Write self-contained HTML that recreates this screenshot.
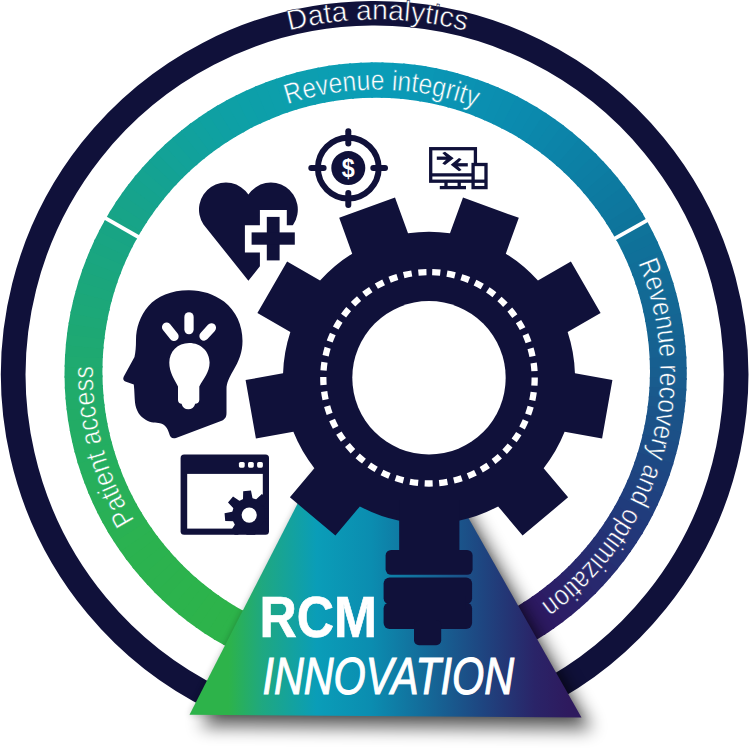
<!DOCTYPE html>
<html lang="en"><head><meta charset="utf-8"><title>RCM Innovation</title>
<style>
html,body{margin:0;padding:0;background:#fff;}
body{width:750px;height:751px;overflow:hidden;}
svg{display:block;}
text{font-family:"Liberation Sans",Arial,sans-serif;}
</style></head><body>
<svg width="750" height="751" viewBox="0 0 750 751">
<defs>
<linearGradient id="tri" gradientUnits="userSpaceOnUse" x1="189.5" y1="0" x2="581.5" y2="0">
<stop offset="0" stop-color="#2db34a"/>
<stop offset="0.10" stop-color="#2db34a"/>
<stop offset="0.185" stop-color="#1fa880"/>
<stop offset="0.325" stop-color="#0a9db8"/>
<stop offset="0.463" stop-color="#0b8db0"/>
<stop offset="0.603" stop-color="#146a99"/>
<stop offset="0.744" stop-color="#1e4681"/>
<stop offset="0.881" stop-color="#2a2468"/>
<stop offset="0.966" stop-color="#2e1a5e"/>
<stop offset="1" stop-color="#2e1a5e"/>
</linearGradient>
<filter id="sh" x="-20%" y="-20%" width="140%" height="140%"><feGaussianBlur stdDeviation="8.5"/></filter>
<filter id="sh2" x="-20%" y="-20%" width="140%" height="140%"><feGaussianBlur stdDeviation="3.5"/></filter>

<path id="p1" d="M289.19,30.56A354.5,354.5 0 1 1 460.11,718.64A354.5,354.5 0 1 1 289.19,30.56"/>
<path id="p2" d="M287.36,104.48A282.3,282.3 0 1 1 464.64,640.52A282.3,282.3 0 1 1 287.36,104.48"/>
<path id="p3" d="M134.70,520.37A283.0,283.0 0 1 1 617.30,224.63A283.0,283.0 0 1 1 134.70,520.37"/>
<path id="p4" d="M638.00,262.90A284.0,284.0 0 1 1 114.00,482.10A284.0,284.0 0 1 1 638.00,262.90"/>
<clipPath id="ringclip"><path clip-rule="evenodd" d="M64.5,373.45 a311.15,311.15 0 1 0 622.3,0 a311.15,311.15 0 1 0 -622.3,0 Z M102.4,371.6 a273.8,273.8 0 1 0 547.6,0 a273.8,273.8 0 1 0 -547.6,0 Z"/></clipPath>
</defs>
<rect width="750" height="751" fill="#fff"/>
<path d="M216.24,699.38A361.35,361.35 0 1 1 538.70,696.57" fill="none" stroke="#10113a" stroke-width="24.7"/>
<text font-size="28.5" fill="#fff" stroke="#10113a" stroke-width="0.55"><textPath href="#p1" textLength="178.5" lengthAdjust="spacingAndGlyphs">Data analytics</textPath></text>
<g clip-path="url(#ringclip)">
<path d="M252.38,637.60A292.50,292.50 0 0 1 241.39,632.19" fill="none" stroke="rgb(45, 179, 74)" stroke-width="44"/>
<path d="M243.21,633.12A292.50,292.50 0 0 1 232.41,627.33" fill="none" stroke="rgb(45, 179, 74)" stroke-width="44"/>
<path d="M234.19,628.33A292.50,292.50 0 0 1 223.60,622.16" fill="none" stroke="rgb(45, 179, 74)" stroke-width="44"/>
<path d="M225.35,623.22A292.50,292.50 0 0 1 214.98,616.69" fill="none" stroke="rgb(45, 179, 74)" stroke-width="44"/>
<path d="M216.69,617.81A292.50,292.50 0 0 1 206.56,610.92" fill="none" stroke="rgb(45, 179, 75)" stroke-width="44"/>
<path d="M208.23,612.10A292.50,292.50 0 0 1 198.34,604.87" fill="none" stroke="rgb(45, 179, 75)" stroke-width="44"/>
<path d="M199.97,606.10A292.50,292.50 0 0 1 190.34,598.52" fill="none" stroke="rgb(44, 179, 76)" stroke-width="44"/>
<path d="M191.92,599.82A292.50,292.50 0 0 1 182.57,591.91" fill="none" stroke="rgb(44, 179, 76)" stroke-width="44"/>
<path d="M184.10,593.25A292.50,292.50 0 0 1 175.03,585.02" fill="none" stroke="rgb(44, 179, 77)" stroke-width="44"/>
<path d="M176.52,586.42A292.50,292.50 0 0 1 167.73,577.88" fill="none" stroke="rgb(44, 178, 77)" stroke-width="44"/>
<path d="M169.17,579.33A292.50,292.50 0 0 1 160.69,570.49" fill="none" stroke="rgb(44, 178, 78)" stroke-width="44"/>
<path d="M162.08,571.98A292.50,292.50 0 0 1 153.91,562.85" fill="none" stroke="rgb(44, 178, 78)" stroke-width="44"/>
<path d="M155.25,564.40A292.50,292.50 0 0 1 147.41,554.98" fill="none" stroke="rgb(43, 178, 79)" stroke-width="44"/>
<path d="M148.68,556.58A292.50,292.50 0 0 1 141.18,546.90" fill="none" stroke="rgb(43, 178, 79)" stroke-width="44"/>
<path d="M142.40,548.53A292.50,292.50 0 0 1 135.23,538.59" fill="none" stroke="rgb(43, 178, 80)" stroke-width="44"/>
<path d="M136.40,540.27A292.50,292.50 0 0 1 129.58,530.09" fill="none" stroke="rgb(43, 178, 81)" stroke-width="44"/>
<path d="M130.69,531.81A292.50,292.50 0 0 1 124.23,521.39" fill="none" stroke="rgb(42, 177, 83)" stroke-width="44"/>
<path d="M125.28,523.15A292.50,292.50 0 0 1 119.19,512.52" fill="none" stroke="rgb(41, 177, 84)" stroke-width="44"/>
<path d="M120.17,514.31A292.50,292.50 0 0 1 114.46,503.47" fill="none" stroke="rgb(41, 176, 86)" stroke-width="44"/>
<path d="M115.38,505.29A292.50,292.50 0 0 1 110.05,494.26" fill="none" stroke="rgb(40, 176, 88)" stroke-width="44"/>
<path d="M110.90,496.12A292.50,292.50 0 0 1 105.96,484.91" fill="none" stroke="rgb(39, 175, 89)" stroke-width="44"/>
<path d="M106.75,486.79A292.50,292.50 0 0 1 102.20,475.41" fill="none" stroke="rgb(39, 175, 91)" stroke-width="44"/>
<path d="M102.93,477.32A292.50,292.50 0 0 1 98.78,465.80" fill="none" stroke="rgb(38, 175, 93)" stroke-width="44"/>
<path d="M99.44,467.73A292.50,292.50 0 0 1 95.69,456.06" fill="none" stroke="rgb(37, 174, 95)" stroke-width="44"/>
<path d="M96.28,458.02A292.50,292.50 0 0 1 92.95,446.23" fill="none" stroke="rgb(36, 174, 96)" stroke-width="44"/>
<path d="M93.47,448.20A292.50,292.50 0 0 1 90.54,436.31" fill="none" stroke="rgb(36, 173, 98)" stroke-width="44"/>
<path d="M91.00,438.30A292.50,292.50 0 0 1 88.49,426.31" fill="none" stroke="rgb(35, 173, 100)" stroke-width="44"/>
<path d="M88.87,428.31A292.50,292.50 0 0 1 86.79,416.24" fill="none" stroke="rgb(34, 172, 101)" stroke-width="44"/>
<path d="M87.10,418.26A292.50,292.50 0 0 1 85.44,406.12" fill="none" stroke="rgb(34, 172, 103)" stroke-width="44"/>
<path d="M85.68,408.15A292.50,292.50 0 0 1 84.44,395.96" fill="none" stroke="rgb(33, 171, 105)" stroke-width="44"/>
<path d="M84.61,397.99A292.50,292.50 0 0 1 83.80,385.77" fill="none" stroke="rgb(32, 171, 107)" stroke-width="44"/>
<path d="M83.90,387.81A292.50,292.50 0 0 1 83.52,375.56" fill="none" stroke="rgb(32, 170, 108)" stroke-width="44"/>
<path d="M83.54,377.60A292.50,292.50 0 0 1 83.59,365.35" fill="none" stroke="rgb(31, 170, 110)" stroke-width="44"/>
<path d="M83.54,367.40A292.50,292.50 0 0 1 84.01,355.15" fill="none" stroke="rgb(31, 170, 112)" stroke-width="44"/>
<path d="M83.90,357.19A292.50,292.50 0 0 1 84.80,344.97" fill="none" stroke="rgb(30, 169, 113)" stroke-width="44"/>
<path d="M84.61,347.01A292.50,292.50 0 0 1 85.94,334.83" fill="none" stroke="rgb(30, 169, 115)" stroke-width="44"/>
<path d="M85.68,336.85A292.50,292.50 0 0 1 87.43,324.73" fill="none" stroke="rgb(29, 168, 116)" stroke-width="44"/>
<path d="M87.10,326.74A292.50,292.50 0 0 1 89.27,314.69" fill="none" stroke="rgb(29, 168, 118)" stroke-width="44"/>
<path d="M88.87,316.69A292.50,292.50 0 0 1 91.46,304.71" fill="none" stroke="rgb(28, 168, 120)" stroke-width="44"/>
<path d="M91.00,306.70A292.50,292.50 0 0 1 94.00,294.82" fill="none" stroke="rgb(28, 167, 121)" stroke-width="44"/>
<path d="M93.47,296.80A292.50,292.50 0 0 1 96.88,285.03" fill="none" stroke="rgb(27, 167, 123)" stroke-width="44"/>
<path d="M96.28,286.98A292.50,292.50 0 0 1 100.11,275.34" fill="none" stroke="rgb(27, 166, 124)" stroke-width="44"/>
<path d="M99.44,277.27A292.50,292.50 0 0 1 103.67,265.77" fill="none" stroke="rgb(26, 166, 126)" stroke-width="44"/>
<path d="M102.93,267.68A292.50,292.50 0 0 1 107.56,256.33" fill="none" stroke="rgb(26, 166, 128)" stroke-width="44"/>
<path d="M106.75,258.21A292.50,292.50 0 0 1 111.77,247.04" fill="none" stroke="rgb(25, 165, 129)" stroke-width="44"/>
<path d="M110.90,248.88A292.50,292.50 0 0 1 116.31,237.89" fill="none" stroke="rgb(25, 165, 131)" stroke-width="44"/>
<path d="M115.38,239.71A292.50,292.50 0 0 1 121.17,228.91" fill="none" stroke="rgb(24, 164, 132)" stroke-width="44"/>
<path d="M120.17,230.69A292.50,292.50 0 0 1 126.34,220.10" fill="none" stroke="rgb(24, 164, 134)" stroke-width="44"/>
<path d="M125.28,221.85A292.50,292.50 0 0 1 131.81,211.48" fill="none" stroke="rgb(23, 164, 136)" stroke-width="44"/>
<path d="M130.69,213.19A292.50,292.50 0 0 1 137.58,203.06" fill="none" stroke="rgb(23, 163, 138)" stroke-width="44"/>
<path d="M136.40,204.73A292.50,292.50 0 0 1 143.63,194.84" fill="none" stroke="rgb(22, 163, 140)" stroke-width="44"/>
<path d="M142.40,196.47A292.50,292.50 0 0 1 149.98,186.84" fill="none" stroke="rgb(21, 163, 142)" stroke-width="44"/>
<path d="M148.68,188.42A292.50,292.50 0 0 1 156.59,179.07" fill="none" stroke="rgb(21, 163, 144)" stroke-width="44"/>
<path d="M155.25,180.60A292.50,292.50 0 0 1 163.48,171.53" fill="none" stroke="rgb(20, 162, 146)" stroke-width="44"/>
<path d="M162.08,173.02A292.50,292.50 0 0 1 170.62,164.23" fill="none" stroke="rgb(19, 162, 148)" stroke-width="44"/>
<path d="M169.17,165.67A292.50,292.50 0 0 1 178.01,157.19" fill="none" stroke="rgb(19, 162, 151)" stroke-width="44"/>
<path d="M176.52,158.58A292.50,292.50 0 0 1 185.65,150.41" fill="none" stroke="rgb(18, 162, 153)" stroke-width="44"/>
<path d="M184.10,151.75A292.50,292.50 0 0 1 193.52,143.91" fill="none" stroke="rgb(17, 161, 155)" stroke-width="44"/>
<path d="M191.92,145.18A292.50,292.50 0 0 1 201.60,137.68" fill="none" stroke="rgb(17, 161, 157)" stroke-width="44"/>
<path d="M199.97,138.90A292.50,292.50 0 0 1 209.91,131.73" fill="none" stroke="rgb(16, 161, 159)" stroke-width="44"/>
<path d="M208.23,132.90A292.50,292.50 0 0 1 218.41,126.08" fill="none" stroke="rgb(15, 161, 161)" stroke-width="44"/>
<path d="M216.69,127.19A292.50,292.50 0 0 1 227.11,120.73" fill="none" stroke="rgb(15, 160, 163)" stroke-width="44"/>
<path d="M225.35,121.78A292.50,292.50 0 0 1 235.98,115.69" fill="none" stroke="rgb(14, 160, 165)" stroke-width="44"/>
<path d="M234.19,116.67A292.50,292.50 0 0 1 245.03,110.96" fill="none" stroke="rgb(14, 160, 166)" stroke-width="44"/>
<path d="M243.21,111.88A292.50,292.50 0 0 1 254.24,106.55" fill="none" stroke="rgb(13, 160, 168)" stroke-width="44"/>
<path d="M252.38,107.40A292.50,292.50 0 0 1 263.59,102.46" fill="none" stroke="rgb(13, 159, 169)" stroke-width="44"/>
<path d="M261.71,103.25A292.50,292.50 0 0 1 273.09,98.70" fill="none" stroke="rgb(13, 159, 170)" stroke-width="44"/>
<path d="M271.18,99.43A292.50,292.50 0 0 1 282.70,95.28" fill="none" stroke="rgb(13, 159, 171)" stroke-width="44"/>
<path d="M280.77,95.94A292.50,292.50 0 0 1 292.44,92.19" fill="none" stroke="rgb(12, 159, 173)" stroke-width="44"/>
<path d="M290.48,92.78A292.50,292.50 0 0 1 302.27,89.45" fill="none" stroke="rgb(12, 159, 174)" stroke-width="44"/>
<path d="M300.30,89.97A292.50,292.50 0 0 1 312.19,87.04" fill="none" stroke="rgb(12, 158, 175)" stroke-width="44"/>
<path d="M310.20,87.50A292.50,292.50 0 0 1 322.19,84.99" fill="none" stroke="rgb(12, 158, 176)" stroke-width="44"/>
<path d="M320.19,85.37A292.50,292.50 0 0 1 332.26,83.29" fill="none" stroke="rgb(11, 158, 178)" stroke-width="44"/>
<path d="M330.24,83.60A292.50,292.50 0 0 1 342.38,81.94" fill="none" stroke="rgb(11, 158, 179)" stroke-width="44"/>
<path d="M340.35,82.18A292.50,292.50 0 0 1 352.54,80.94" fill="none" stroke="rgb(11, 158, 180)" stroke-width="44"/>
<path d="M350.51,81.11A292.50,292.50 0 0 1 362.73,80.30" fill="none" stroke="rgb(11, 157, 181)" stroke-width="44"/>
<path d="M360.69,80.40A292.50,292.50 0 0 1 372.94,80.02" fill="none" stroke="rgb(10, 157, 183)" stroke-width="44"/>
<path d="M370.90,80.04A292.50,292.50 0 0 1 383.15,80.09" fill="none" stroke="rgb(10, 157, 184)" stroke-width="44"/>
<path d="M381.10,80.04A292.50,292.50 0 0 1 393.35,80.51" fill="none" stroke="rgb(10, 156, 183)" stroke-width="44"/>
<path d="M391.31,80.40A292.50,292.50 0 0 1 403.53,81.30" fill="none" stroke="rgb(10, 154, 183)" stroke-width="44"/>
<path d="M401.49,81.11A292.50,292.50 0 0 1 413.67,82.44" fill="none" stroke="rgb(10, 153, 182)" stroke-width="44"/>
<path d="M411.65,82.18A292.50,292.50 0 0 1 423.77,83.93" fill="none" stroke="rgb(10, 152, 181)" stroke-width="44"/>
<path d="M421.76,83.60A292.50,292.50 0 0 1 433.81,85.77" fill="none" stroke="rgb(10, 151, 181)" stroke-width="44"/>
<path d="M431.81,85.37A292.50,292.50 0 0 1 443.79,87.96" fill="none" stroke="rgb(10, 149, 180)" stroke-width="44"/>
<path d="M441.80,87.50A292.50,292.50 0 0 1 453.68,90.50" fill="none" stroke="rgb(10, 148, 179)" stroke-width="44"/>
<path d="M451.70,89.97A292.50,292.50 0 0 1 463.47,93.38" fill="none" stroke="rgb(11, 147, 179)" stroke-width="44"/>
<path d="M461.52,92.78A292.50,292.50 0 0 1 473.16,96.61" fill="none" stroke="rgb(11, 146, 178)" stroke-width="44"/>
<path d="M471.23,95.94A292.50,292.50 0 0 1 482.73,100.17" fill="none" stroke="rgb(11, 144, 177)" stroke-width="44"/>
<path d="M480.82,99.43A292.50,292.50 0 0 1 492.17,104.06" fill="none" stroke="rgb(11, 143, 177)" stroke-width="44"/>
<path d="M490.29,103.25A292.50,292.50 0 0 1 501.46,108.27" fill="none" stroke="rgb(11, 142, 176)" stroke-width="44"/>
<path d="M499.62,107.40A292.50,292.50 0 0 1 510.61,112.81" fill="none" stroke="rgb(11, 141, 175)" stroke-width="44"/>
<path d="M508.79,111.88A292.50,292.50 0 0 1 519.59,117.67" fill="none" stroke="rgb(11, 139, 175)" stroke-width="44"/>
<path d="M517.81,116.67A292.50,292.50 0 0 1 528.40,122.84" fill="none" stroke="rgb(11, 138, 174)" stroke-width="44"/>
<path d="M526.65,121.78A292.50,292.50 0 0 1 537.02,128.31" fill="none" stroke="rgb(11, 137, 173)" stroke-width="44"/>
<path d="M535.31,127.19A292.50,292.50 0 0 1 545.44,134.08" fill="none" stroke="rgb(11, 135, 171)" stroke-width="44"/>
<path d="M543.77,132.90A292.50,292.50 0 0 1 553.66,140.13" fill="none" stroke="rgb(12, 134, 170)" stroke-width="44"/>
<path d="M552.03,138.90A292.50,292.50 0 0 1 561.66,146.48" fill="none" stroke="rgb(12, 132, 169)" stroke-width="44"/>
<path d="M560.08,145.18A292.50,292.50 0 0 1 569.43,153.09" fill="none" stroke="rgb(12, 131, 168)" stroke-width="44"/>
<path d="M567.90,151.75A292.50,292.50 0 0 1 576.97,159.98" fill="none" stroke="rgb(12, 129, 166)" stroke-width="44"/>
<path d="M575.48,158.58A292.50,292.50 0 0 1 584.27,167.12" fill="none" stroke="rgb(12, 128, 165)" stroke-width="44"/>
<path d="M582.83,165.67A292.50,292.50 0 0 1 591.31,174.51" fill="none" stroke="rgb(13, 126, 164)" stroke-width="44"/>
<path d="M589.92,173.02A292.50,292.50 0 0 1 598.09,182.15" fill="none" stroke="rgb(13, 125, 163)" stroke-width="44"/>
<path d="M596.75,180.60A292.50,292.50 0 0 1 604.59,190.02" fill="none" stroke="rgb(13, 123, 161)" stroke-width="44"/>
<path d="M603.32,188.42A292.50,292.50 0 0 1 610.82,198.10" fill="none" stroke="rgb(13, 122, 160)" stroke-width="44"/>
<path d="M609.60,196.47A292.50,292.50 0 0 1 616.77,206.41" fill="none" stroke="rgb(13, 120, 159)" stroke-width="44"/>
<path d="M615.60,204.73A292.50,292.50 0 0 1 622.42,214.91" fill="none" stroke="rgb(14, 119, 158)" stroke-width="44"/>
<path d="M621.31,213.19A292.50,292.50 0 0 1 627.77,223.61" fill="none" stroke="rgb(14, 117, 156)" stroke-width="44"/>
<path d="M626.72,221.85A292.50,292.50 0 0 1 632.81,232.48" fill="none" stroke="rgb(14, 116, 155)" stroke-width="44"/>
<path d="M631.83,230.69A292.50,292.50 0 0 1 637.54,241.53" fill="none" stroke="rgb(15, 115, 154)" stroke-width="44"/>
<path d="M636.62,239.71A292.50,292.50 0 0 1 641.95,250.74" fill="none" stroke="rgb(15, 113, 153)" stroke-width="44"/>
<path d="M641.10,248.88A292.50,292.50 0 0 1 646.04,260.09" fill="none" stroke="rgb(16, 112, 153)" stroke-width="44"/>
<path d="M645.25,258.21A292.50,292.50 0 0 1 649.80,269.59" fill="none" stroke="rgb(17, 110, 152)" stroke-width="44"/>
<path d="M649.07,267.68A292.50,292.50 0 0 1 653.22,279.20" fill="none" stroke="rgb(17, 109, 151)" stroke-width="44"/>
<path d="M652.56,277.27A292.50,292.50 0 0 1 656.31,288.94" fill="none" stroke="rgb(18, 107, 150)" stroke-width="44"/>
<path d="M655.72,286.98A292.50,292.50 0 0 1 659.05,298.77" fill="none" stroke="rgb(19, 106, 149)" stroke-width="44"/>
<path d="M658.53,296.80A292.50,292.50 0 0 1 661.46,308.69" fill="none" stroke="rgb(19, 104, 149)" stroke-width="44"/>
<path d="M661.00,306.70A292.50,292.50 0 0 1 663.51,318.69" fill="none" stroke="rgb(20, 103, 148)" stroke-width="44"/>
<path d="M663.13,316.69A292.50,292.50 0 0 1 665.21,328.76" fill="none" stroke="rgb(21, 101, 147)" stroke-width="44"/>
<path d="M664.90,326.74A292.50,292.50 0 0 1 666.56,338.88" fill="none" stroke="rgb(21, 100, 146)" stroke-width="44"/>
<path d="M666.32,336.85A292.50,292.50 0 0 1 667.56,349.04" fill="none" stroke="rgb(22, 98, 145)" stroke-width="44"/>
<path d="M667.39,347.01A292.50,292.50 0 0 1 668.20,359.23" fill="none" stroke="rgb(23, 97, 145)" stroke-width="44"/>
<path d="M668.10,357.19A292.50,292.50 0 0 1 668.48,369.44" fill="none" stroke="rgb(23, 95, 144)" stroke-width="44"/>
<path d="M668.46,367.40A292.50,292.50 0 0 1 668.41,379.65" fill="none" stroke="rgb(24, 94, 143)" stroke-width="44"/>
<path d="M668.46,377.60A292.50,292.50 0 0 1 667.99,389.85" fill="none" stroke="rgb(25, 92, 142)" stroke-width="44"/>
<path d="M668.10,387.81A292.50,292.50 0 0 1 667.20,400.03" fill="none" stroke="rgb(25, 89, 140)" stroke-width="44"/>
<path d="M667.39,397.99A292.50,292.50 0 0 1 666.06,410.17" fill="none" stroke="rgb(26, 87, 139)" stroke-width="44"/>
<path d="M666.32,408.15A292.50,292.50 0 0 1 664.57,420.27" fill="none" stroke="rgb(26, 84, 138)" stroke-width="44"/>
<path d="M664.90,418.26A292.50,292.50 0 0 1 662.73,430.31" fill="none" stroke="rgb(27, 82, 136)" stroke-width="44"/>
<path d="M663.13,428.31A292.50,292.50 0 0 1 660.54,440.29" fill="none" stroke="rgb(28, 80, 135)" stroke-width="44"/>
<path d="M661.00,438.30A292.50,292.50 0 0 1 658.00,450.18" fill="none" stroke="rgb(28, 77, 134)" stroke-width="44"/>
<path d="M658.53,448.20A292.50,292.50 0 0 1 655.12,459.97" fill="none" stroke="rgb(29, 75, 132)" stroke-width="44"/>
<path d="M655.72,458.02A292.50,292.50 0 0 1 651.89,469.66" fill="none" stroke="rgb(29, 72, 131)" stroke-width="44"/>
<path d="M652.56,467.73A292.50,292.50 0 0 1 648.33,479.23" fill="none" stroke="rgb(30, 70, 130)" stroke-width="44"/>
<path d="M649.07,477.32A292.50,292.50 0 0 1 644.44,488.67" fill="none" stroke="rgb(31, 68, 128)" stroke-width="44"/>
<path d="M645.25,486.79A292.50,292.50 0 0 1 640.23,497.96" fill="none" stroke="rgb(31, 65, 127)" stroke-width="44"/>
<path d="M641.10,496.12A292.50,292.50 0 0 1 635.69,507.11" fill="none" stroke="rgb(32, 63, 126)" stroke-width="44"/>
<path d="M636.62,505.29A292.50,292.50 0 0 1 630.83,516.09" fill="none" stroke="rgb(32, 60, 124)" stroke-width="44"/>
<path d="M631.83,514.31A292.50,292.50 0 0 1 625.66,524.90" fill="none" stroke="rgb(33, 58, 123)" stroke-width="44"/>
<path d="M626.72,523.15A292.50,292.50 0 0 1 620.19,533.52" fill="none" stroke="rgb(34, 55, 121)" stroke-width="44"/>
<path d="M621.31,531.81A292.50,292.50 0 0 1 614.42,541.94" fill="none" stroke="rgb(35, 53, 119)" stroke-width="44"/>
<path d="M615.60,540.27A292.50,292.50 0 0 1 608.37,550.16" fill="none" stroke="rgb(36, 50, 117)" stroke-width="44"/>
<path d="M609.60,548.53A292.50,292.50 0 0 1 602.02,558.16" fill="none" stroke="rgb(37, 48, 115)" stroke-width="44"/>
<path d="M603.32,556.58A292.50,292.50 0 0 1 595.41,565.93" fill="none" stroke="rgb(38, 45, 113)" stroke-width="44"/>
<path d="M596.75,564.40A292.50,292.50 0 0 1 588.52,573.47" fill="none" stroke="rgb(39, 43, 111)" stroke-width="44"/>
<path d="M589.92,571.98A292.50,292.50 0 0 1 581.38,580.77" fill="none" stroke="rgb(40, 40, 110)" stroke-width="44"/>
<path d="M582.83,579.33A292.50,292.50 0 0 1 573.99,587.81" fill="none" stroke="rgb(41, 38, 108)" stroke-width="44"/>
<path d="M575.48,586.42A292.50,292.50 0 0 1 566.35,594.59" fill="none" stroke="rgb(42, 35, 106)" stroke-width="44"/>
<path d="M567.90,593.25A292.50,292.50 0 0 1 558.48,601.09" fill="none" stroke="rgb(43, 32, 104)" stroke-width="44"/>
<path d="M560.08,599.82A292.50,292.50 0 0 1 550.40,607.32" fill="none" stroke="rgb(44, 30, 102)" stroke-width="44"/>
<path d="M552.03,606.10A292.50,292.50 0 0 1 542.09,613.27" fill="none" stroke="rgb(45, 27, 100)" stroke-width="44"/>
<path d="M543.77,612.10A292.50,292.50 0 0 1 533.59,618.92" fill="none" stroke="rgb(45, 26, 99)" stroke-width="44"/>
<path d="M535.31,617.81A292.50,292.50 0 0 1 524.89,624.27" fill="none" stroke="rgb(45, 26, 99)" stroke-width="44"/>
<path d="M526.65,623.22A292.50,292.50 0 0 1 516.02,629.31" fill="none" stroke="rgb(45, 26, 99)" stroke-width="44"/>
<path d="M517.81,628.33A292.50,292.50 0 0 1 506.97,634.04" fill="none" stroke="rgb(45, 26, 99)" stroke-width="44"/>
<path d="M508.79,633.12A292.50,292.50 0 0 1 497.76,638.45" fill="none" stroke="rgb(45, 26, 99)" stroke-width="44"/>
<path d="M499.62,637.60A292.50,292.50 0 0 1 488.41,642.54" fill="none" stroke="rgb(45, 26, 99)" stroke-width="44"/>
<path d="M490.29,641.75A292.50,292.50 0 0 1 478.91,646.30" fill="none" stroke="rgb(45, 26, 99)" stroke-width="44"/>
<path d="M480.82,645.57A292.50,292.50 0 0 1 469.30,649.72" fill="none" stroke="rgb(45, 26, 99)" stroke-width="44"/>
</g>
<line x1="141.47" y1="238.73" x2="102.38" y2="216.43" stroke="#fff" stroke-width="3.8"/>
<line x1="611.46" y1="240.37" x2="650.70" y2="218.34" stroke="#fff" stroke-width="3.8"/>
<text font-size="28.5" fill="#fff" stroke="rgb(11,155,182)" stroke-width="0.55"><textPath href="#p2" textLength="192" lengthAdjust="spacingAndGlyphs">Revenue integrity</textPath></text>
<text font-size="28.5" fill="#fff" stroke="rgb(36,173,98)" stroke-width="0.55"><textPath href="#p3" textLength="162" lengthAdjust="spacingAndGlyphs">Patient access</textPath></text>
<text font-size="28.5" fill="#fff" stroke-width="0.55"><textPath href="#p4" textLength="382.7" lengthAdjust="spacingAndGlyphs"><tspan stroke="rgb(17,108,151)">Revenue </tspan><tspan stroke="rgb(25,88,140)">recovery </tspan><tspan stroke="rgb(32,62,125)">and </tspan><tspan stroke="rgb(40,40,110)">optimization</tspan></textPath></text>
<polygon points="189.5,714.7 581.5,717.4 374.8,352.8" fill="#000" opacity="0.6" filter="url(#sh)" transform="translate(11,12)"/>
<polygon points="189.5,714.7 581.5,717.4 374.8,352.8" fill="#000" opacity="0.22" filter="url(#sh2)" transform="translate(0,1)"/>
<polygon points="189.5,714.7 581.5,717.4 374.8,352.8" fill="url(#tri)"/>
<text x="259.6" y="637" font-size="58" font-weight="700" fill="#fff" stroke="#fff" stroke-width="0.7" textLength="117.5" lengthAdjust="spacingAndGlyphs">RCM</text>
<text x="262.5" y="694" font-size="52.3" font-style="italic" fill="#fff" stroke="#fff" stroke-width="1.1" textLength="251.5" lengthAdjust="spacingAndGlyphs">INNOVATION</text>
<path d="M449.98,233.32L463.00,197.56L518.81,217.87L505.80,253.63A146.0,146.0 0 0 1 537.95,280.61L570.90,261.58L600.60,313.02L567.65,332.05A146.0,146.0 0 0 1 574.93,373.37L612.41,379.98L602.09,438.48L564.62,431.87A146.0,146.0 0 0 1 543.64,468.21L568.10,497.36L522.59,535.54L498.13,506.39A146.0,146.0 0 0 1 458.70,520.75L458.70,557.80L399.30,557.80L399.30,520.75A146.0,146.0 0 0 1 359.87,506.39L335.41,535.54L289.90,497.36L314.36,468.21A146.0,146.0 0 0 1 293.38,431.87L255.91,438.48L245.59,379.98L283.07,373.37A146.0,146.0 0 0 1 290.35,332.05L257.40,313.02L287.10,261.58L320.05,280.61A146.0,146.0 0 0 1 352.20,253.63L339.19,217.87L395.00,197.56L408.02,233.32A146.0,146.0 0 0 1 449.98,233.32Z" fill="#10113a"/>
<circle cx="429.0" cy="377.8" r="76.7" fill="#fff"/>
<circle cx="429.0" cy="377.8" r="105.7" fill="none" stroke="#fff" stroke-width="6.3" stroke-dasharray="8.2 6.559" stroke-dashoffset="11.48" transform="rotate(-90 429.0 377.8)"/>
<g fill="#10113a">
<rect x="399.6" y="500" width="59.8" height="56"/>
<rect x="385.6" y="550" width="87" height="24.8" rx="5.5"/>
<rect x="383.6" y="577.6" width="88.5" height="26.6" rx="6"/>
<rect x="383.6" y="602.6" width="88.5" height="26.4" rx="6"/>
<rect x="390" y="596" width="75.5" height="14"/>
<rect x="414" y="620" width="27.2" height="25.2" rx="5"/>
</g>
<g fill="#10113a">
<path d="M248.4,280.7 L203.5,224.5 A26.2,26.2 0 0 1 248.4,194.6 A26.2,26.2 0 0 1 293.3,224.5 L292.7,225.2 H286.8 V210 H259.9 V225.2 H244.9 V252.4 H259.9 V266.3 Z"/>
<rect x="266.8" y="216.9" width="12.8" height="43.5"/><rect x="251.6" y="232.4" width="43.2" height="12.3"/>
</g>
<path fill="#10113a" d="M189.2,290.2 C172,290 157,296 148.5,306 C140,316 136,328 136,340 C136,347 135.5,352 134.5,357 L123.8,376.5 C122.5,379 123.5,381 126,381.8 L133.8,384.5 C134.5,391 134.5,397 135,402.5 C136,411 140,416.5 146,420 C151,423 156,422.5 160,423.3 C165,424.5 167.5,428 169,433 C170,437 172,439.3 176,438 L221,421 C225,419.5 226.5,417 226.5,413 L226.5,389 C226.5,383 229,378 233,371 C239,361 242.5,352 242.5,341 C242.5,325 236,311 224,301.5 C214,294 202,290.3 189.2,290.2 Z"/>
<path fill="#fff" d="M189.2,342.9 C177.5,342.9 169.3,351.5 169.3,362.6 C169.3,372 174,379 178,386.5 L178,400 C178,402.5 179.5,403.6 181.5,403.8 C182.5,407.5 185,409.3 188.3,409.3 C191.6,409.3 194.2,407.5 195.2,403.8 C197.5,403.6 199.3,402.5 199.3,400 L199.3,386.5 C203.5,379 209.6,372 209.6,362.6 C209.6,351.5 201,342.9 189.2,342.9 Z"/>
<g stroke="#fff" stroke-width="9.3" stroke-linecap="round"><line x1="189" y1="316.9" x2="189" y2="329.6"/><line x1="166.6" y1="327.2" x2="174" y2="336.4"/><line x1="211.4" y1="327.8" x2="204" y2="336"/></g>
<rect x="180.6" y="454.5" width="88.4" height="80.3" rx="3.5" fill="#10113a"/>
<rect x="187.2" y="473.9" width="75.6" height="54.7" fill="#fff"/>
<rect x="238.9" y="461.9" width="5.8" height="5.8" rx="1.6" fill="#fff"/>
<rect x="248" y="461.9" width="5.8" height="5.8" rx="1.6" fill="#fff"/>
<rect x="257.1" y="461.9" width="5.8" height="5.8" rx="1.6" fill="#fff"/>
<clipPath id="wclip"><rect x="180.6" y="454.5" width="88.4" height="80.3" rx="3.5"/></clipPath>
<g clip-path="url(#wclip)" fill="#10113a"><circle cx="249.2" cy="515.1" r="17.2"/><path d="M242.97,500.09L243.19,491.13L250.96,490.45L252.73,499.23ZM255.41,500.08L261.90,493.90L267.87,498.92L262.92,506.38ZM264.21,508.87L273.17,509.09L273.85,516.86L265.07,518.63ZM264.22,521.31L270.40,527.80L265.38,533.77L257.92,528.82ZM255.43,530.11L255.21,539.07L247.44,539.75L245.67,530.97ZM242.99,530.12L236.50,536.30L230.53,531.28L235.48,523.82ZM234.19,521.33L225.23,521.11L224.55,513.34L233.33,511.57ZM234.18,508.89L228.00,502.40L233.02,496.43L240.48,501.38Z"/></g>
<circle cx="249.2" cy="515.1" r="7.6" fill="#fff"/>
<circle cx="348.3" cy="168.1" r="30.4" fill="none" stroke="#10113a" stroke-width="6"/>
<circle cx="348.3" cy="168.1" r="17" fill="#10113a"/>
<g stroke="#10113a" stroke-width="6" stroke-linecap="round"><line x1="348.3" y1="131.3" x2="348.3" y2="143.6"/><line x1="348.3" y1="193" x2="348.3" y2="205"/><line x1="311.3" y1="168.1" x2="323.6" y2="168.1"/><line x1="373.3" y1="168.1" x2="385" y2="168.1"/></g>
<text x="348.3" y="177.3" font-size="26.5" font-weight="700" fill="#fff" text-anchor="middle" textLength="13" lengthAdjust="spacingAndGlyphs">$</text>
<g fill="none" stroke="#10113a" stroke-width="3.3">
<rect x="430.7" y="148.7" width="44.7" height="32.5"/>
<line x1="430" y1="174.8" x2="472" y2="174.8"/>
<rect x="473.1" y="164.5" width="12.9" height="23.1" fill="#fff"/>
<line x1="472" y1="181.2" x2="487" y2="181.2"/>
<line x1="446" y1="182" x2="446" y2="187"/><line x1="459.2" y1="182" x2="459.2" y2="187"/>
<line x1="439.8" y1="187.6" x2="466" y2="187.6"/>
<line x1="436.8" y1="158.2" x2="449" y2="158.2"/><line x1="455" y1="164.8" x2="467.8" y2="164.8"/>
</g>
<path fill="#10113a" d="M442.3,152.9 L445,151.7 L453.7,158.2 L445,164.9 L442.3,163.6 L447.6,158.2 Z"/>
<path fill="#10113a" d="M461.6,159.2 L459,158 L450.7,164.8 L459,171.2 L461.6,170 L456.4,164.8 Z"/>
</svg></body></html>
